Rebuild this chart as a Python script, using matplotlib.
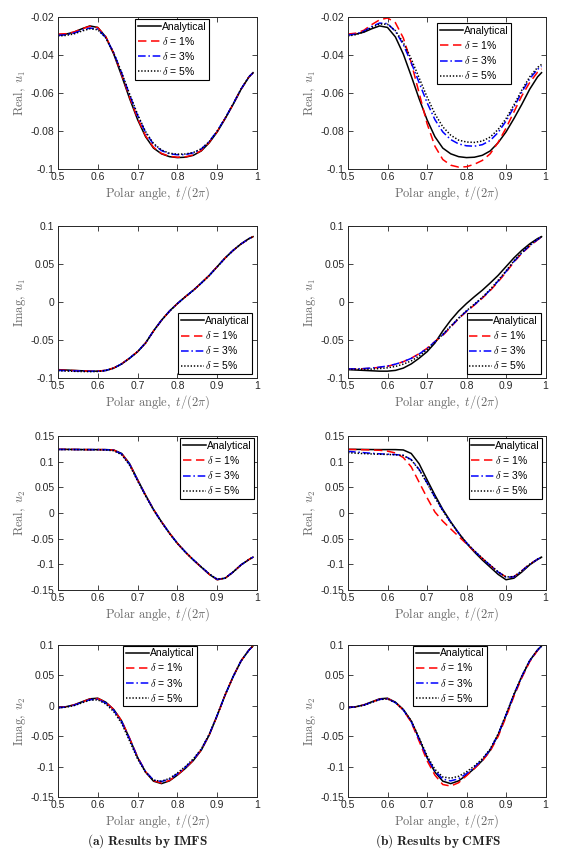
import numpy as np
import matplotlib
matplotlib.use("Agg")
import matplotlib.pyplot as plt
from matplotlib.ticker import FuncFormatter

plt.rcParams['font.family'] = ['Liberation Sans', 'DejaVu Sans']
plt.rcParams['mathtext.fontset'] = 'cm'
plt.rcParams['axes.unicode_minus'] = False

# polar angle t/(2pi)
t = [0.50, 0.52, 0.54, 0.56, 0.58, 0.60, 0.62, 0.64, 0.66, 0.68, 0.70, 0.72, 0.74,
     0.76, 0.78, 0.80, 0.82, 0.84, 0.86, 0.88, 0.90, 0.92, 0.94, 0.96, 0.98, 0.99]

# ---- Real u1
re_u1_ana = [-0.0293, -0.0290, -0.0280, -0.0262, -0.0247, -0.0255, -0.0305, -0.0395, -0.0510, -0.0630, -0.0740, -0.0830, -0.0890,
             -0.0920, -0.0935, -0.0940, -0.0938, -0.0928, -0.0905, -0.0862, -0.0805, -0.0735, -0.0660, -0.0580, -0.0515, -0.0493]
re_u1_imfs1 = [-0.0290, -0.0288, -0.0279, -0.0262, -0.0249, -0.0256, -0.0303, -0.0390, -0.0503, -0.0622, -0.0733, -0.0825, -0.0886,
               -0.0918, -0.0933, -0.0938, -0.0936, -0.0926, -0.0903, -0.0860, -0.0803, -0.0733, -0.0659, -0.0580, -0.0515, -0.0494]
re_u1_imfs3 = [-0.0297, -0.0294, -0.0285, -0.0270, -0.0258, -0.0264, -0.0308, -0.0388, -0.0495, -0.0610, -0.0718, -0.0808, -0.0870,
               -0.0903, -0.0920, -0.0925, -0.0924, -0.0915, -0.0895, -0.0855, -0.0800, -0.0732, -0.0658, -0.0579, -0.0514, -0.0494]
re_u1_imfs5 = [-0.0300, -0.0297, -0.0289, -0.0274, -0.0262, -0.0267, -0.0310, -0.0390, -0.0493, -0.0606, -0.0713, -0.0803, -0.0866,
               -0.0900, -0.0917, -0.0922, -0.0921, -0.0913, -0.0894, -0.0856, -0.0801, -0.0733, -0.0658, -0.0579, -0.0514, -0.0494]
re_u1_cmfs1 = [-0.0290, -0.0285, -0.0270, -0.0240, -0.0215, -0.0205, -0.0230, -0.0310, -0.0440, -0.0600, -0.0760, -0.0880, -0.0950,
               -0.0980, -0.0990, -0.0988, -0.0975, -0.0955, -0.0920, -0.0860, -0.0785, -0.0700, -0.0615, -0.0545, -0.0490, -0.0473]
re_u1_cmfs3 = [-0.0295, -0.0290, -0.0275, -0.0250, -0.0232, -0.0235, -0.0275, -0.0345, -0.0440, -0.0545, -0.0650, -0.0740, -0.0805,
               -0.0845, -0.0868, -0.0878, -0.0880, -0.0872, -0.0850, -0.0808, -0.0748, -0.0675, -0.0595, -0.0525, -0.0475, -0.0460]
re_u1_cmfs5 = [-0.0300, -0.0293, -0.0278, -0.0255, -0.0237, -0.0238, -0.0272, -0.0335, -0.0420, -0.0520, -0.0620, -0.0710, -0.0778,
               -0.0822, -0.0848, -0.0858, -0.0860, -0.0853, -0.0832, -0.0792, -0.0735, -0.0663, -0.0585, -0.0515, -0.0465, -0.0450]

# ---- Imag u1
im_u1_ana = [-0.0890, -0.0895, -0.0900, -0.0905, -0.0910, -0.0910, -0.0900, -0.0870, -0.0815, -0.0740, -0.0655, -0.0540, -0.0380,
             -0.0240, -0.0120, -0.0020, 0.0070, 0.0155, 0.0250, 0.0350, 0.0465, 0.0580, 0.0680, 0.0765, 0.0835, 0.0860]
im_u1_imfs1 = [-0.0895, -0.0898, -0.0902, -0.0906, -0.0910, -0.0910, -0.0899, -0.0868, -0.0812, -0.0737, -0.0652, -0.0540, -0.0383,
               -0.0242, -0.0122, -0.0022, 0.0068, 0.0153, 0.0248, 0.0350, 0.0465, 0.0578, 0.0678, 0.0763, 0.0833, 0.0858]
im_u1_imfs3 = [-0.0900, -0.0903, -0.0906, -0.0909, -0.0912, -0.0912, -0.0901, -0.0870, -0.0814, -0.0738, -0.0652, -0.0538, -0.0381,
               -0.0241, -0.0121, -0.0021, 0.0069, 0.0154, 0.0249, 0.0349, 0.0464, 0.0579, 0.0679, 0.0764, 0.0834, 0.0859]
im_u1_imfs5 = [-0.0905, -0.0908, -0.0912, -0.0915, -0.0916, -0.0914, -0.0903, -0.0871, -0.0815, -0.0739, -0.0653, -0.0539, -0.0382,
               -0.0242, -0.0122, -0.0022, 0.0068, 0.0153, 0.0248, 0.0348, 0.0463, 0.0578, 0.0678, 0.0763, 0.0833, 0.0858]
im_u1_cmfs1 = [-0.0880, -0.0880, -0.0878, -0.0870, -0.0860, -0.0845, -0.0820, -0.0785, -0.0740, -0.0680, -0.0610, -0.0520, -0.0440,
               -0.0330, -0.0220, -0.0125, -0.0040, 0.0050, 0.0150, 0.0265, 0.0390, 0.0525, 0.0640, 0.0735, 0.0818, 0.0855]
im_u1_cmfs3 = [-0.0880, -0.0880, -0.0876, -0.0868, -0.0857, -0.0842, -0.0818, -0.0785, -0.0742, -0.0685, -0.0612, -0.0522, -0.0430,
               -0.0325, -0.0215, -0.0120, -0.0035, 0.0055, 0.0158, 0.0275, 0.0400, 0.0532, 0.0645, 0.0742, 0.0822, 0.0857]
im_u1_cmfs5 = [-0.0885, -0.0886, -0.0886, -0.0883, -0.0876, -0.0866, -0.0848, -0.0818, -0.0775, -0.0712, -0.0630, -0.0530, -0.0425,
               -0.0318, -0.0212, -0.0115, -0.0028, 0.0062, 0.0165, 0.0285, 0.0410, 0.0540, 0.0652, 0.0748, 0.0826, 0.0858]

# ---- Real u2
re_u2_ana = [0.1240, 0.1240, 0.1238, 0.1236, 0.1235, 0.1235, 0.1235, 0.1228, 0.1160, 0.0960, 0.0650, 0.0350, 0.0070,
             -0.0170, -0.0390, -0.0590, -0.0760, -0.0915, -0.1055, -0.1195, -0.1300, -0.1270, -0.1150, -0.1010, -0.0905, -0.0860]
re_u2_imfs1 = [0.1240, 0.1240, 0.1238, 0.1236, 0.1235, 0.1235, 0.1234, 0.1225, 0.1152, 0.0950, 0.0642, 0.0345, 0.0068,
               -0.0172, -0.0392, -0.0592, -0.0762, -0.0915, -0.1055, -0.1192, -0.1298, -0.1270, -0.1150, -0.1010, -0.0905, -0.0860]
re_u2_imfs3 = [0.1238, 0.1238, 0.1237, 0.1236, 0.1235, 0.1235, 0.1233, 0.1222, 0.1148, 0.0945, 0.0638, 0.0342, 0.0066,
               -0.0173, -0.0392, -0.0590, -0.0758, -0.0910, -0.1050, -0.1188, -0.1292, -0.1268, -0.1150, -0.1010, -0.0905, -0.0860]
re_u2_imfs5 = [0.1236, 0.1236, 0.1235, 0.1234, 0.1233, 0.1232, 0.1228, 0.1212, 0.1135, 0.0930, 0.0625, 0.0332, 0.0058,
               -0.0180, -0.0398, -0.0595, -0.0762, -0.0912, -0.1050, -0.1186, -0.1290, -0.1268, -0.1150, -0.1010, -0.0905, -0.0860]
re_u2_cmfs1 = [0.1240, 0.1236, 0.1232, 0.1228, 0.1222, 0.1205, 0.1170, 0.1080, 0.0900, 0.0600, 0.0300, 0.0020, -0.0160,
               -0.0310, -0.0455, -0.0600, -0.0745, -0.0885, -0.1020, -0.1150, -0.1245, -0.1240, -0.1125, -0.0995, -0.0900, -0.0860]
re_u2_cmfs3 = [0.1200, 0.1188, 0.1175, 0.1163, 0.1153, 0.1145, 0.1138, 0.1125, 0.1040, 0.0850, 0.0590, 0.0310, 0.0050,
               -0.0180, -0.0390, -0.0580, -0.0740, -0.0885, -0.1020, -0.1150, -0.1250, -0.1245, -0.1130, -0.1000, -0.0900, -0.0860]
re_u2_cmfs5 = [0.1175, 0.1165, 0.1157, 0.1150, 0.1145, 0.1140, 0.1135, 0.1120, 0.1035, 0.0845, 0.0585, 0.0305, 0.0045,
               -0.0185, -0.0392, -0.0580, -0.0738, -0.0880, -0.1015, -0.1145, -0.1245, -0.1240, -0.1128, -0.0998, -0.0900, -0.0860]

# ---- Imag u2
im_u2_ana = [-0.0030, -0.0015, 0.0015, 0.0065, 0.0115, 0.0125, 0.0060, -0.0060, -0.0250, -0.0540, -0.0850, -0.1090, -0.1240,
             -0.1280, -0.1235, -0.1140, -0.1030, -0.0900, -0.0730, -0.0480, -0.0160, 0.0180, 0.0480, 0.0740, 0.0920, 0.0985]
im_u2_imfs1 = [-0.0030, -0.0016, 0.0013, 0.0062, 0.0110, 0.0120, 0.0058, -0.0060, -0.0248, -0.0535, -0.0843, -0.1083, -0.1232,
               -0.1270, -0.1228, -0.1135, -0.1025, -0.0895, -0.0725, -0.0478, -0.0160, 0.0178, 0.0478, 0.0738, 0.0918, 0.0983]
im_u2_imfs3 = [-0.0032, -0.0020, 0.0008, 0.0055, 0.0100, 0.0108, 0.0045, -0.0075, -0.0265, -0.0550, -0.0853, -0.1082, -0.1222,
               -0.1245, -0.1205, -0.1118, -0.1012, -0.0885, -0.0718, -0.0472, -0.0156, 0.0180, 0.0478, 0.0738, 0.0918, 0.0983]
im_u2_imfs5 = [-0.0035, -0.0023, 0.0003, 0.0048, 0.0092, 0.0098, 0.0030, -0.0095, -0.0290, -0.0580, -0.0875, -0.1092, -0.1225,
               -0.1240, -0.1195, -0.1105, -0.0998, -0.0873, -0.0710, -0.0468, -0.0155, 0.0180, 0.0478, 0.0738, 0.0918, 0.0983]
im_u2_cmfs1 = [-0.0030, -0.0016, 0.0013, 0.0060, 0.0108, 0.0118, 0.0055, -0.0070, -0.0270, -0.0580, -0.0900, -0.1140, -0.1295,
               -0.1320, -0.1265, -0.1150, -0.1030, -0.0905, -0.0745, -0.0505, -0.0185, 0.0155, 0.0460, 0.0725, 0.0910, 0.0978]
im_u2_cmfs3 = [-0.0030, -0.0017, 0.0011, 0.0058, 0.0105, 0.0115, 0.0052, -0.0068, -0.0260, -0.0548, -0.0848, -0.1072, -0.1205,
               -0.1235, -0.1200, -0.1115, -0.1010, -0.0885, -0.0718, -0.0470, -0.0150, 0.0185, 0.0485, 0.0742, 0.0918, 0.0982]
im_u2_cmfs5 = [-0.0030, -0.0017, 0.0010, 0.0056, 0.0103, 0.0113, 0.0052, -0.0062, -0.0245, -0.0525, -0.0820, -0.1045, -0.1170,
               -0.1190, -0.1160, -0.1085, -0.0990, -0.0872, -0.0710, -0.0465, -0.0145, 0.0190, 0.0488, 0.0745, 0.0920, 0.0983]

labels = ['Analytical', r'$\delta$ = 1%', r'$\delta$ = 3%', r'$\delta$ = 5%']
ylabels = [r'$\mathrm{Real,}\ u_1$', r'$\mathrm{Imag,}\ u_1$', r'$\mathrm{Real,}\ u_2$', r'$\mathrm{Imag,}\ u_2$']
yticks = [[-0.1, -0.08, -0.06, -0.04, -0.02],
          [-0.1, -0.05, 0, 0.05, 0.1],
          [-0.15, -0.1, -0.05, 0, 0.05, 0.1, 0.15],
          [-0.15, -0.1, -0.05, 0, 0.05, 0.1]]
xticks = [0.5, 0.6, 0.7, 0.8, 0.9, 1.0]
captions = [r'$\mathbf{(a)\ Results\ by\ IMFS}$', r'$\mathbf{(b)\ Results\ by\ CMFS}$']

rows = [
    (re_u1_ana, [re_u1_imfs1, re_u1_imfs3, re_u1_imfs5], [re_u1_cmfs1, re_u1_cmfs3, re_u1_cmfs5]),
    (im_u1_ana, [im_u1_imfs1, im_u1_imfs3, im_u1_imfs5], [im_u1_cmfs1, im_u1_cmfs3, im_u1_cmfs5]),
    (re_u2_ana, [re_u2_imfs1, re_u2_imfs3, re_u2_imfs5], [re_u2_cmfs1, re_u2_cmfs3, re_u2_cmfs5]),
    (im_u2_ana, [im_u2_imfs1, im_u2_imfs3, im_u2_imfs5], [im_u2_cmfs1, im_u2_cmfs3, im_u2_cmfs5]),
]

# legend placement per panel (loc, anchor) [row][col]
leg_pos = [
    [('upper left', (0.387, 0.987)), ('upper left', (0.452, 0.958))],
    [('lower right', (0.975, 0.026)), ('lower right', (0.975, 0.026))],
    [('upper right', (0.984, 0.985)), ('upper right', (0.984, 0.985))],
    [('upper left', (0.328, 0.995)), ('upper left', (0.331, 0.995))],
]

W, H = 567, 855
fig = plt.figure(figsize=(W / 100, H / 100), dpi=100)

col_x = [(58, 199), (348, 197.5)]
row_y = [(17, 169), (226, 378), (436, 590), (645, 797)]
cap_x = [147, 438]

grey = '#262626'
fmt = FuncFormatter(lambda v, p: '%g' % (round(v, 4) + 0.0))

for r in range(4):
    ana, imfs, cmfs = rows[r]
    for c in range(2):
        x0, w = col_x[c]
        y0, y1 = row_y[r]
        ax = fig.add_axes([x0 / W, 1 - y1 / H, w / W, (y1 - y0) / H])
        num = imfs if c == 0 else cmfs
        ax.plot(t, ana, color='k', lw=1.1, ls='-')
        ax.plot(t, num[0], color='r', lw=1.1, dashes=(5.5, 3))
        ax.plot(t, num[1], color='b', lw=1.1, dashes=(5, 1.8, 1, 1.8))
        ax.plot(t, num[2], color='k', lw=1.1, dashes=(0.9, 1.2))

        ax.set_xlim(0.5, 1.0)
        ax.set_ylim(yticks[r][0], yticks[r][-1])
        ax.set_xticks(xticks)
        ax.set_yticks(yticks[r])
        ax.xaxis.set_major_formatter(fmt)
        ax.yaxis.set_major_formatter(fmt)
        ax.tick_params(direction='in', top=True, right=True, length=3.5, width=0.6,
                       labelsize=7.5, colors=grey, pad=2.5)
        for s in ax.spines.values():
            s.set_color(grey)
            s.set_linewidth(0.7)
        ax.set_ylabel(ylabels[r], fontsize=9, color='#6a6a6a', labelpad=2)
        ax.set_xlabel(r'$\mathrm{Polar\ angle,}\ t/(2\pi)$', fontsize=9, color='#6a6a6a', labelpad=1)

        loc, anchor = leg_pos[r][c]
        leg = ax.legend(labels, loc=loc, bbox_to_anchor=anchor, fontsize=7.5,
                        handlelength=2.2, handletextpad=0.1, labelspacing=0.3,
                        borderpad=0.25, borderaxespad=0, fancybox=False, framealpha=1)
        leg.get_frame().set_edgecolor('k')
        leg.get_frame().set_linewidth(0.8)

# captions below each column
for c in range(2):
    fig.text(cap_x[c] / W, 1 - 841 / H, captions[c], ha='center', va='center',
             fontsize=9.6, color='#222222')

fig.savefig('out.png', dpi=100)
